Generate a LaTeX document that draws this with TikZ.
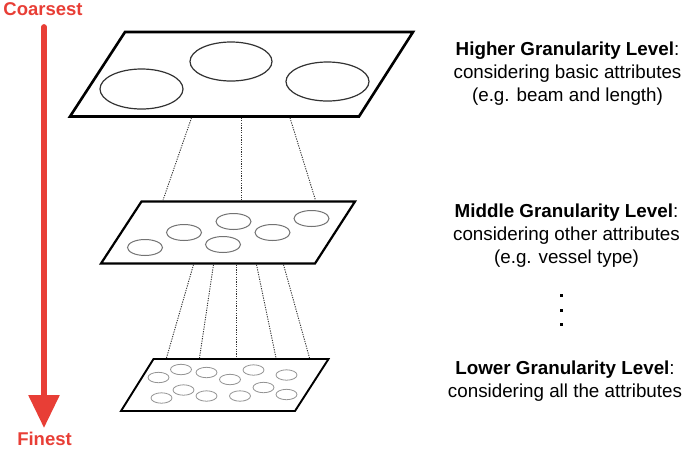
\documentclass[tikz,border=0pt]{standalone}
\usepackage{fontspec}
\setmainfont{Liberation Sans}
\usetikzlibrary{arrows.meta}
\definecolor{arrred}{RGB}{232,62,54}
\tikzset{
  plane/.style={draw=black, line join=miter, fill=white},
  bigell/.style={draw=black!80, line width=1.2pt},
  midell/.style={draw=black!55, line width=1pt},
  smallell/.style={draw=black!42, line width=0.8pt},
  link/.style={draw=black!80, dash pattern=on 1.2pt off 1.2pt, line width=0.9pt},
  lbl/.style={align=center, font=\fontsize{18.8}{23}\selectfont, inner sep=0pt},
  ends/.style={font=\fontsize{18.5}{22}\selectfont\bfseries, text=arrred, inner sep=0pt},
  vdot/.style={fill=black, minimum size=3pt, inner sep=0pt}
}
\begin{document}
\begin{tikzpicture}[x=1pt,y=-1pt]
\useasboundingbox (0,0) rectangle (685,451);
% red arrow
\node[ends] (coarse) at (43,9) {Coarsest};
\node[ends] (fine) at (44.5,439) {Finest};
\coordinate (atop) at (44,27);
\coordinate (atip) at (44,428);
\draw[arrred, line width=5.8pt, line cap=round, -{Triangle[width=30pt,length=33pt]}] (atop) -- (atip);
% top plane
\draw[plane, line width=2.6pt] (125,32) -- (413,32) -- (359,116.5) -- (70,116.5) -- cycle;
\draw[bigell] (141.5,89) ellipse (41.5 and 20);
\draw[bigell] (231,61.5) ellipse (41 and 19.5);
\draw[bigell] (327.5,81.5) ellipse (41.5 and 19.5);
% middle plane
\draw[plane, line width=2.2pt] (141.5,201.5) -- (355,201.5) -- (315,263.5) -- (101,263.5) -- cycle;
\foreach \cx/\cy in {145/247.5,184/232.5,233.5/221.5,223/244.5,272.5/232.5,311.5/218.5}
  \draw[midell] (\cx,\cy) ellipse (17.5 and 8);
% bottom plane
\draw[plane, line width=1.9pt] (153.5,359) -- (328.5,359) -- (295,411) -- (121,411) -- cycle;
\foreach \cx/\cy in {158.5/377.5,181/369.5,206.5/372.5,230/379.5,253.5/370,286.5/375,
                     161.5/398,183.5/390,206.5/396,240/396,263.5/387.5,286.5/394.5}
  \draw[smallell] (\cx,\cy) ellipse (10.5 and 5.2);
% connector end points
\coordinate (t1) at (191.5,117.8); \coordinate (m1) at (163,200.2);
\coordinate (t2) at (241.5,117.8); \coordinate (m2) at (241.5,200.2);
\coordinate (t3) at (290,117.8);   \coordinate (m3) at (315.5,200.2);
\coordinate (u1) at (193.5,264.6); \coordinate (b1) at (166.5,357.9);
\coordinate (u2) at (213.5,264.6); \coordinate (b2) at (199.5,357.9);
\coordinate (u3) at (236.5,264.6); \coordinate (b3) at (236.5,357.9);
\coordinate (u4) at (256.5,264.6); \coordinate (b4) at (276,357.9);
\coordinate (u5) at (283.5,264.6); \coordinate (b5) at (309.5,357.9);
\foreach \a/\b in {t1/m1,t2/m2,t3/m3,u1/b1,u2/b2,u3/b3,u4/b4,u5/b5}
  \draw[link] (\a) -- (\b);
% labels
\node[lbl] (high) at (567.5,74) {\textbf{Higher Granularity Level}:\\considering basic attributes\\(e.g. beam and length)};
\node[lbl] (mid) at (566.5,236) {\textbf{Middle Granularity Level}:\\considering other attributes\\(e.g. vessel type)};
\node[lbl] (low) at (565,381) {\textbf{Lower Granularity Level}:\\considering all the attributes};
\node[vdot] (d1) at (561,295) {};
\node[vdot] (d2) at (561,310) {};
\node[vdot] (d3) at (561,324) {};
\end{tikzpicture}
\end{document}
